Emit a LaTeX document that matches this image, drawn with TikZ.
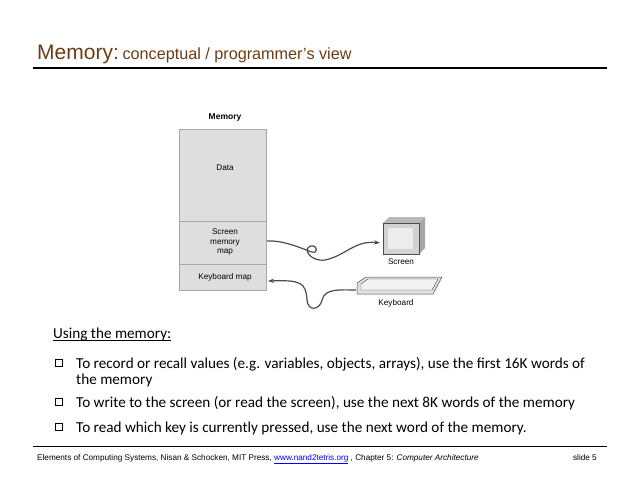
\documentclass[tikz,border=0pt]{standalone}
\usepackage{fontspec}
\setmainfont{Liberation Sans}
\newfontfamily\comic{Carlito}
\usetikzlibrary{arrows.meta,calc}
\definecolor{titlebrown}{RGB}{110,60,20}
\definecolor{memgray}{RGB}{222,222,222}
\tikzset{
  mem/.style={draw=gray!70,fill=memgray,line width=0.6pt},
  lbl/.style={font=\fontsize{8.2}{9.8}\selectfont,align=center},
  body/.style={font=\comic\fontsize{15.2}{16}\selectfont,anchor=base west,align=left,inner sep=0},
  box/.style={draw,line width=0.6pt,minimum size=7pt,inner sep=0},
  cable/.style={draw=black!70,line width=1.2pt},
}
\begin{document}
\begin{tikzpicture}[x=1pt,y=-1pt]
\useasboundingbox (0,0) rectangle (638,493);
\node[anchor=base west,text=titlebrown,inner sep=0] (title) at (37,59) {{\fontsize{21}{24}\selectfont Memory:} {\fontsize{16.2}{19}\selectfont conceptual / programmer’s view}};
\draw[line width=1.2pt] (33,68) -- (607,68);
% memory
\node[font=\bfseries\fontsize{8.5}{10}\selectfont] (memlbl) at (225,117) {Memory};
\draw[mem] (179,129) rectangle (266,221);
\draw[mem] (179,221) rectangle (266,264);
\draw[mem] (179,264) rectangle (266,290);
\node[lbl] (data) at (225,168) {Data};
\node[lbl] (scr) at (225,242) {Screen\\memory\\map};
\node[lbl] (kbd) at (225,277) {Keyboard map};
\coordinate (smr) at (267,241);
\coordinate (kmr) at (268,281);
% screen
\fill[gray!55] (383,223) -- (389,217) -- (425,217) -- (419,223) -- cycle;
\fill[gray!70] (419,223) -- (425,217) -- (425,248) -- (419,254) -- cycle;
\draw[gray!60!black,fill=gray!35,line width=0.5pt] (383,223) rectangle (419,254);
\fill[gray!15] (388,228) rectangle (413,249);
\node[lbl] (screen) at (401,262) {Screen};
\coordinate (scrin) at (380,243);
% keyboard
\draw[gray!60!black,fill=gray!25,line width=0.5pt] (357,283) -- (366,277) -- (442,277) -- (433,294) -- (357,294) -- cycle;
\draw[gray!60!black,fill=gray!10,line width=0.4pt] (361,284) -- (368,279) -- (438,279) -- (432,290) -- (361,290) -- cycle;
\node[lbl] (keyboard) at (396,303) {Keyboard};
\coordinate (kbout) at (356,290);
% cables
\draw[cable,-{Stealth[length=6pt]}] (smr) .. controls (285,240) and (305,250) .. (312,252)
  .. controls (318,254) and (318,245) .. (311,246)
  .. controls (302,248) and (310,262) .. (325,260)
  .. controls (345,256) and (355,240) .. (scrin);
\draw[cable,-{Stealth[length=6pt]}] (kbout) .. controls (340,290) and (325,288) .. (322,300)
  .. controls (320,310) and (308,312) .. (307,300)
  .. controls (306,282) and (300,280) .. (kmr);
% body
\node[body] (use) at (53,338) {Using the memory:};
\draw[line width=0.6pt] ($(use.base west)+(0,2.5)$) -- ($(use.base east)+(0,2.5)$);
\node[box] (c1) at (59,363) {};
\node[box] (c2) at (59,402) {};
\node[box] (c3) at (59,427) {};
\node[body] (t1) at (76,368) {To record or recall values (e.g. variables, objects, arrays), use the first 16K words of};
\node[body] (t1b) at (76,384) {the memory};
\node[body] (t2) at (76,407) {To write to the screen (or read the screen), use the next 8K words of the memory};
\node[body] (t3) at (76,432) {To read which key is currently pressed, use the next word of the memory.};
% footer
\draw[line width=0.6pt] (33,446) -- (607,446);
\node[anchor=base west,inner sep=0,font=\fontsize{8.2}{10}\selectfont] (foot) at (37,460) {Elements of Computing Systems, Nisan \& Schocken, MIT Press, \textcolor{blue}{\underline{www.nand2tetris.org}} , Chapter 5: \textit{Computer Architecture}};
\node[anchor=base east,inner sep=0,font=\fontsize{8.2}{10}\selectfont] (slide) at (597,460) {slide 5};
\end{tikzpicture}
\end{document}
